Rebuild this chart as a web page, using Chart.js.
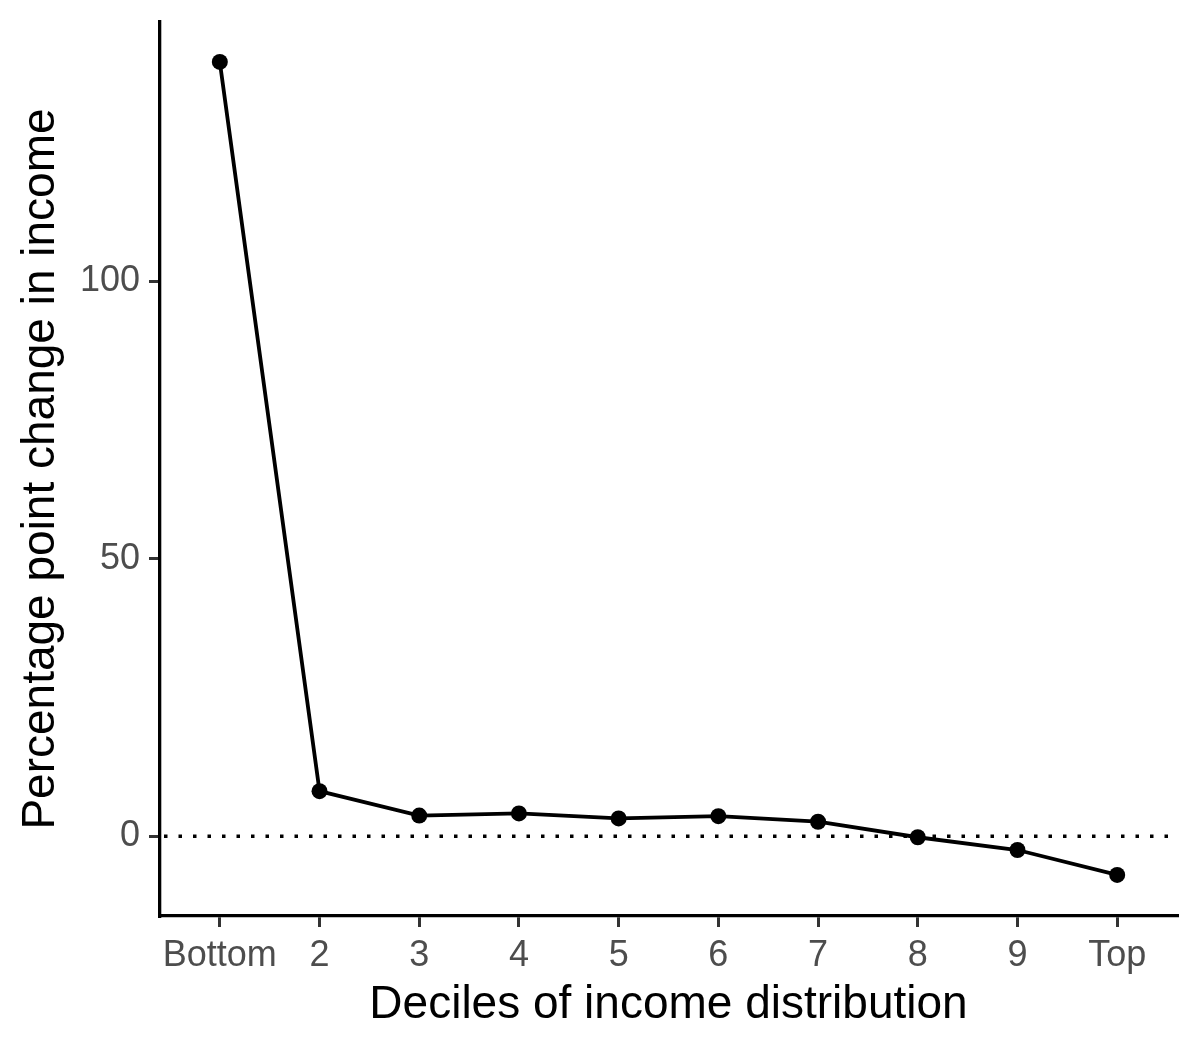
<!DOCTYPE html>
<html>
<head>
<meta charset="utf-8">
<script src="https://cdn.jsdelivr.net/npm/chart.js@4"></script>
<style>
html,body{margin:0;padding:0;background:#fff;}
#wrap{width:1200px;height:1050px;position:relative;}
</style>
</head>
<body>
<div id="wrap"><canvas id="c" width="1200" height="1050"></canvas></div>
<script>
const categories = ["Bottom", "2", "3", "4", "5", "6", "7", "8", "9", "Top"];
const changeValues = [139.6, 8.1, 3.7, 4.1, 3.2, 3.6, 2.6, -0.2, -2.5, -7.0];
const yTickValues = [0, 50, 100];
const referenceLine = 0;
const yLimits = [-14.4, 146.8];
const xLimits = [0.4, 10.6];

const FONT = "'Liberation Sans', Arial, sans-serif";

const points = changeValues.map((v, i) => ({ x: i + 1, y: v }));

const hlinePlugin = {
  id: 'hline',
  beforeDatasetsDraw(chart) {
    const { ctx, chartArea } = chart;
    const y = chart.scales.y.getPixelForValue(referenceLine);
    ctx.save();
    ctx.strokeStyle = '#000';
    ctx.lineWidth = 3.5;
    ctx.setLineDash([3.5, 11]);
    ctx.beginPath();
    ctx.moveTo(chartArea.left + 4, y);
    ctx.lineTo(chartArea.right, y);
    ctx.stroke();
    ctx.restore();
  }
};

function zeroPad(s) { s.paddingTop = 0; s.paddingBottom = 0; s.paddingLeft = 0; s.paddingRight = 0; }

new Chart(document.getElementById('c'), {
  type: 'line',
  data: {
    datasets: [{
      data: points,
      borderColor: '#000',
      borderWidth: 3.8,
      backgroundColor: '#000',
      pointRadius: 8,
      pointBorderWidth: 0,
      pointBackgroundColor: '#000',
      tension: 0,
      fill: false
    }]
  },
  options: {
    responsive: false,
    animation: false,
    events: [],
    layout: { autoPadding: false, padding: { top: 22, right: 23, left: 0, bottom: 0 } },
    plugins: { legend: { display: false }, tooltip: { enabled: false } },
    scales: {
      x: {
        type: 'linear',
        min: xLimits[0],
        max: xLimits[1],
        afterBuildTicks: (s) => { s.ticks = categories.map((c, i) => ({ value: i + 1 })); },
        afterFit: (s) => { s.height = 134; zeroPad(s); },
        ticks: {
          callback: (v) => categories[Math.round(v) - 1],
          color: '#4D4D4D',
          font: { family: FONT, size: 36, lineHeight: 1 },
          padding: 11,
          maxRotation: 0,
          autoSkip: false
        },
        grid: { display: true, drawOnChartArea: false, drawTicks: true, tickLength: 11, color: '#333333', lineWidth: 3 },
        border: { display: true, color: '#000', width: 3.3 },
        title: {
          display: true,
          text: 'Deciles of income distribution',
          color: '#000',
          font: { family: FONT, size: 46, lineHeight: 1 },
          padding: { top: 0, bottom: 22 }
        }
      },
      y: {
        type: 'linear',
        min: yLimits[0],
        max: yLimits[1],
        afterBuildTicks: (s) => { s.ticks = yTickValues.map(v => ({ value: v })); },
        afterFit: (s) => { s.width = 160; zeroPad(s); },
        ticks: {
          color: '#4D4D4D',
          font: { family: FONT, size: 36, lineHeight: 1 },
          padding: 9
        },
        grid: { display: true, drawOnChartArea: false, drawTicks: true, tickLength: 11, color: '#333333', lineWidth: 3 },
        border: { display: true, color: '#000', width: 3.3 },
        title: {
          display: true,
          text: 'Percentage point change in income',
          color: '#000',
          font: { family: FONT, size: 46, lineHeight: 1 },
          padding: { top: 18, bottom: 0 }
        }
      }
    }
  },
  plugins: [hlinePlugin]
});
</script>
</body>
</html>
